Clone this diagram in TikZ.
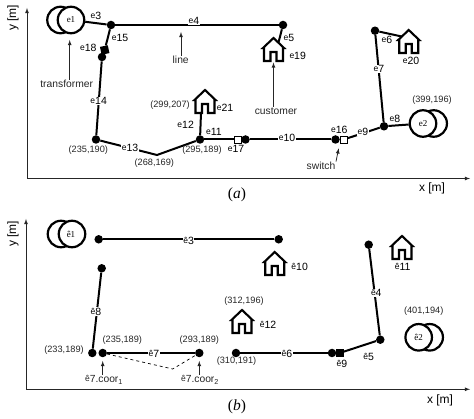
\documentclass[tikz,border=0pt]{standalone}
\usepackage{fontspec}
\setmainfont{Liberation Sans}
\newfontfamily\capfont{Liberation Serif}
\newcommand{\el}[1]{\raisebox{1pt}{\fontsize{8.5}{8.5}\selectfont e}#1}
\newcommand{\eh}[1]{\raisebox{1pt}{\fontsize{8.5}{8.5}\selectfont ê}#1}
\begin{document}
\begin{tikzpicture}[x=1pt,y=-1pt]
  % Styling
  \tikzset{
    wire/.style={line width=2pt, black},
    arrow/.style={-latex, line width=0.8pt, black!85},
    dot/.style={circle, fill=black, inner sep=0pt, minimum size=8.5pt},
    switchOpen/.style={rectangle, draw=black, fill=white, line width=0.6pt, inner sep=0pt, minimum size=7pt},
    switchShut/.style={rectangle, fill=black, inner sep=0pt, minimum size=8pt},
    coil/.style={circle, draw=black, fill=white, line width=2.2pt, inner sep=0pt, minimum size=26.5pt},
    edgeLabel/.style={font=\fontsize{10.5}{11}\selectfont, inner sep=0.5pt, black},
    gapLabel/.style={edgeLabel, fill=white},
    coilLabel/.style={font=\capfont\fontsize{9}{9}\selectfont, inner sep=0pt},
    tag/.style={font=\fontsize{10.3}{11}\selectfont, inner sep=0.5pt, black!85},
    coorLabel/.style={font=\fontsize{9.2}{10}\selectfont, inner sep=0.5pt, black!85},
    axisLabel/.style={font=\fontsize{12}{12}\selectfont, inner sep=0pt},
    bigLabel/.style={font=\capfont\fontsize{15.5}{16}\selectfont, inner sep=0pt},
    house/.pic={
      \draw[line width=2.1pt, fill=white, miter limit=10] (0,-12) -- (10.5,-2) -- (9.5,-2) -- (9.5,11) -- (3,11) -- (3,2)
        -- (-3,2) -- (-3,11) -- (-9.5,11) -- (-9.5,-2) -- (-10.5,-2) -- cycle;
      \coordinate (-rslope) at (5,-7.5);
      \coordinate (-lslope) at (-7,-5.5);
      \coordinate (-foot) at (-4,11);
    }
  }
  \useasboundingbox (0,0) rectangle (474,419);

  % ===== Panel a =====
  % Axes
  \coordinate (aO) at (27,178.5);
  \coordinate (aX) at (470,178.5);
  \coordinate (aY) at (27,8);
  \draw[arrow] (aO) -- (aX);
  \draw[arrow] (aO) -- (aY);
  \node[axisLabel, rotate=90] (aYlab) at (13,18) {y [m]};
  \node[axisLabel] (aXlab) at (432,188) {x [m]};
  \node[bigLabel] (aCap) at (237,195) {(\textit{a})};

  % Transformers
  \node[coil] (t1b) at (60.5,20) {};
  \node[coil] (t1) at (71,20) {};
  \node[coilLabel] (t1lab) at (71,20) {e1};
  \node[coil] (t2b) at (433.7,123.5) {};
  \node[coil] (t2) at (423,123.5) {};
  \node[coilLabel] (t2lab) at (423,123.5) {e2};

  % Customers
  \pic (h19) at (273.5,50) {house};
  \pic (h20) at (408.7,42) {house};
  \pic (h21) at (205,102) {house};

  % Junctions
  \node[dot] (a1) at (111,25) {};
  \node[dot] (a2) at (283,25) {};
  \node[dot] (a3) at (102,57) {};
  \node[dot] (a4) at (96,139.5) {};
  \coordinate (a5) at (157,155);
  \node[dot] (a6) at (200,139.5) {};
  \node[dot] (a7) at (245.5,139.5) {};
  \node[dot] (a8) at (335.5,139.5) {};
  \node[dot] (a9) at (384,126.3) {};
  \node[dot] (a10) at (375,30.7) {};
  \node[switchShut, rotate=12] (s18) at (104.7,50) {};
  \node[switchOpen] (s17) at (237.5,139.5) {};
  \node[switchOpen] (s16) at (343.7,139.5) {};

  % Lines
  \draw[wire] (t1) -- (a1);
  \draw[wire] (a1) -- (a2);
  \draw[wire] (a1) -- (s18);
  \draw[wire] (s18) -- (a3);
  \draw[wire] (a3) -- (a4);
  \draw[wire] (a4) -- (a5) -- (a6);
  \draw[wire] (a6) -- (h21-foot);
  \draw[wire] (a6) -- (s17);
  \draw[wire] (s17) -- (a7);
  \draw[wire] (a7) -- (a8);
  \draw[wire] (s16) -- (a9);
  \draw[wire] (a9) -- (t2);
  \draw[wire] (a9) -- (a10);
  \draw[wire] (a10) -- (h20-lslope);
  \draw[wire] (a2) -- (h19-rslope);

  % Edge labels
  \node[edgeLabel] (e3) at (96,16) {\el{3}};
  \node[gapLabel] (e4) at (194,21) {\el{4}};
  \node[edgeLabel] (e5) at (289,37.7) {\el{5}};
  \node[edgeLabel] (e6) at (387,40) {\el{6}};
  \node[gapLabel] (e7) at (379,69) {\el{7}};
  \node[edgeLabel] (e8) at (395,119) {\el{8}};
  \node[gapLabel] (e9) at (363,132) {\el{9}};
  \node[gapLabel] (e10) at (287,138) {\el{10}};
  \node[edgeLabel] (e11) at (214,132.3) {\el{11}};
  \node[edgeLabel] (e12) at (185.7,125) {\el{12}};
  \node[gapLabel] (e13) at (130,148.3) {\el{13}};
  \node[gapLabel] (e14) at (98.7,101) {\el{14}};
  \node[edgeLabel] (e15) at (120,37.7) {\el{15}};
  \node[edgeLabel] (e16) at (339.3,130) {\el{16}};
  \node[edgeLabel] (e17) at (236,148.7) {\el{17}};
  \node[edgeLabel] (e18) at (88.3,48.3) {\el{18}};
  \node[edgeLabel] (e19) at (297.7,56) {\el{19}};
  \node[edgeLabel] (e20) at (411,61) {\el{20}};
  \node[edgeLabel] (e21) at (225,108.3) {\el{21}};

  % Coordinates
  \node[coorLabel] (c1) at (170,105) {(299,207)};
  \node[coorLabel] (c2) at (88.3,150) {(235,190)};
  \node[coorLabel] (c3) at (154.3,163) {(268,169)};
  \node[coorLabel] (c4) at (202,150) {(295,189)};
  \node[coorLabel] (c5) at (432,100) {(399,196)};

  % Callouts
  \node[tag] (lTrans) at (66.7,84.3) {transformer};
  \node[tag] (lLine) at (180.7,60.3) {line};
  \node[tag] (lCust) at (276,111) {customer};
  \node[tag] (lSwitch) at (321,166) {switch};
  \coordinate (pTrans) at (69.7,40);
  \coordinate (pLine) at (181,32);
  \coordinate (pCust) at (273.5,62.5);
  \coordinate (pSwitch) at (338.7,148.3);
  \draw[arrow] (lTrans.north -| pTrans) -- (pTrans);
  \draw[arrow] (lLine.north -| pLine) -- (pLine);
  \draw[arrow] (lCust.north -| pCust) -- (pCust);
  \draw[arrow] (lSwitch.north east) -- (pSwitch);

  % ===== Panel b =====
  % Axes
  \coordinate (bO) at (26,389.3);
  \coordinate (bX) at (470,389.3);
  \coordinate (bY) at (26,219);
  \draw[arrow] (bO) -- (bX);
  \draw[arrow] (bO) -- (bY);
  \node[axisLabel, rotate=90] (bYlab) at (13,234) {y [m]};
  \node[axisLabel] (bXlab) at (440,400) {x [m]};
  \node[bigLabel] (bCap) at (237,407) {(\textit{b})};

  % Transformers
  \node[coil] (u1b) at (61,234) {};
  \node[coil] (u1) at (72,234) {};
  \node[coilLabel] (u1lab) at (71,234) {ê1};
  \node[coil] (u2b) at (429.7,337.3) {};
  \node[coil] (u2) at (418.7,337.3) {};
  \node[coilLabel] (u2lab) at (418.7,337.3) {ê2};

  % Customers
  \pic (k10) at (274.7,264) {house};
  \pic (k11) at (402,248) {house};
  \pic (k12) at (242,322) {house};

  % Junctions
  \node[dot] (b1) at (98.7,239.3) {};
  \node[dot] (b2) at (278.7,239.3) {};
  \node[dot] (b3) at (101.7,268.3) {};
  \node[dot] (b4) at (92.3,353) {};
  \node[dot] (b5) at (102.7,353) {};
  \node[dot] (b6) at (199.3,353) {};
  \node[dot] (b7) at (236,353) {};
  \node[dot] (b8) at (332,353) {};
  \node[switchShut] (s9) at (339.7,353) {};
  \node[dot] (b9) at (380.3,339.7) {};
  \node[dot] (b10) at (368.7,244.7) {};
  \coordinate (b11) at (172.7,369);

  % Lines
  \draw[wire] (b1) -- (b2);
  \draw[wire] (b3) -- (b4);
  \draw[wire] (b5) -- (b6);
  \draw[wire] (b7) -- (b8);
  \draw[wire] (s9) -- (b9);
  \draw[wire] (b9) -- (b10);
  \draw[dashed, line width=0.7pt] (b5) -- (b11) -- (b6);

  % Edge labels
  \node[gapLabel] (f3) at (188.7,240.7) {\eh{3}};
  \node[gapLabel] (f4) at (376.3,293) {\eh{4}};
  \node[edgeLabel] (f5) at (368.7,356.7) {\eh{5}};
  \node[gapLabel] (f6) at (287,354) {\eh{6}};
  \node[gapLabel] (f7) at (154,354) {\eh{7}};
  \node[gapLabel] (f8) at (96,311.7) {\eh{8}};
  \node[edgeLabel] (f9) at (342,364) {\eh{9}};
  \node[edgeLabel] (f10) at (299.7,267) {\eh{10}};
  \node[edgeLabel] (f11) at (402.7,267) {\eh{11}};
  \node[edgeLabel] (f12) at (268,325) {\eh{12}};

  % Coordinates
  \node[coorLabel] (d1) at (64,350) {(233,189)};
  \node[coorLabel] (d2) at (122.3,340) {(235,189)};
  \node[coorLabel] (d3) at (199.3,340) {(293,189)};
  \node[coorLabel] (d4) at (236.5,361) {(310,191)};
  \node[coorLabel] (d5) at (244,300.7) {(312,196)};
  \node[coorLabel] (d6) at (423.7,310.7) {(401,194)};

  % Callouts
  \node[tag] (lCoorA) at (104,379.7) {\eh{7}.coor\textsubscript{1}};
  \node[tag] (lCoorB) at (200,379.7) {\eh{7}.coor\textsubscript{2}};
  \coordinate (pCoorA) at (102.7,361);
  \coordinate (pCoorB) at (199.3,361);
  \draw[arrow] (lCoorA.north -| pCoorA) -- (pCoorA);
  \draw[arrow] (lCoorB.north -| pCoorB) -- (pCoorB);
\end{tikzpicture}
\end{document}
